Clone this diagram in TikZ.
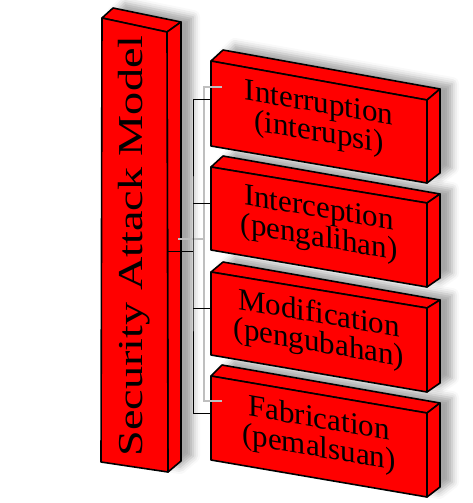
\documentclass[tikz,border=0pt]{standalone}
\usepackage{fontspec}
\setmainfont{Liberation Serif}
\usetikzlibrary{calc,shadows.blur}

\tikzset{
  face/.style={fill=red,draw=black,line width=1.6pt,line join=round},
  shade/.style={blur shadow={shadow xshift=12pt,shadow yshift=5pt,shadow opacity=35,shadow blur radius=7pt}},
  conn/.style={draw=black,line width=1pt},
  connshade/.style={draw=black!25,line width=2.5pt,transform canvas={xshift=11pt,yshift=12pt}},
  lbl/.style={font=\fontsize{31}{29}\selectfont,align=center,yslant=-0.17,inner sep=0pt}
}

\begin{document}
\begin{tikzpicture}[x=1pt,y=-1pt]
              \useasboundingbox (0,0) rectangle (472,503);
              % shadows
              \path[shade](102,18)--(113,8)--(181,22)--(181,461)--(168,472)--(101,462)--cycle;
              \path[shade](211,61)--(223,50)--(440,89)--(440,173)--(427,183)--(211,146)--cycle;
              \path[shade](211,167)--(223,156)--(440,194)--(440,278)--(427,287)--(211,250)--cycle;
              \path[shade](211,272)--(223,262)--(440,300)--(440,383)--(427,392)--(211,355)--cycle;
              \path[shade](211,376)--(222,365)--(440,403)--(440,487)--(427,497)--(211,460)--cycle;
              % left box
              \draw[face](102,18)--(113,8)--(181,22)--(167,32)--cycle;
              \draw[face](167,32)--(181,22)--(181,461)--(168,472)--cycle;
              \draw[face](102,18)--(167,32)--(168,472)--(101,462)--cycle;
              % right boxes
              \draw[face](211,61)--(223,50)--(440,89)--(427,100)--cycle;
              \draw[face](427,100)--(440,89)--(440,173)--(427,183)--cycle;
              \draw[face](211,61)--(427,100)--(427,183)--(211,146)--cycle;
              \draw[face](211,167)--(223,156)--(440,194)--(427,203)--cycle;
              \draw[face](427,203)--(440,194)--(440,278)--(427,287)--cycle;
              \draw[face](211,167)--(427,203)--(427,287)--(211,250)--cycle;
              \draw[face](211,272)--(223,262)--(440,300)--(427,308)--cycle;
              \draw[face](427,308)--(440,300)--(440,383)--(427,392)--cycle;
              \draw[face](211,272)--(427,308)--(427,392)--(211,355)--cycle;
              \draw[face](211,376)--(222,365)--(440,403)--(427,413)--cycle;
              \draw[face](427,413)--(440,403)--(440,487)--(427,497)--cycle;
              \draw[face](211,376)--(427,413)--(427,497)--(211,460)--cycle;
              % connection points
              \coordinate (m) at (167,251);
              \coordinate (j) at (193,251);
              \coordinate (c1) at (211,99);
              \coordinate (c2) at (211,203);
              \coordinate (c3) at (211,308);
              \coordinate (c4) at (211,413);
              \draw[connshade](c1)-|(j)|-(c4);
              \draw[connshade](m)--(j);
              \draw[conn](c1)-|(j)|-(c4);
              \draw[conn](m)--(j);
              \draw[conn](c2-|j)--(c2);
              \draw[conn](c3-|j)--(c3);
              % labels
              \path (134,246) node[rotate=90,font=\fontsize{35}{36}\selectfont,inner sep=0pt] (sam) {\scalebox{1.32}[1]{Security Attack Model}};
              \path (319,120) node[lbl] (p1) {Interruption\\(interupsi)};
              \path (319,225) node[lbl] (p2) {Interception\\(pengalihan)};
              \path (319,330) node[lbl] (p3) {Modification\\(pengubahan)};
              \path (319,435) node[lbl] (p4) {Fabrication\\(pemalsuan)};
            \end{tikzpicture}
\end{document}
